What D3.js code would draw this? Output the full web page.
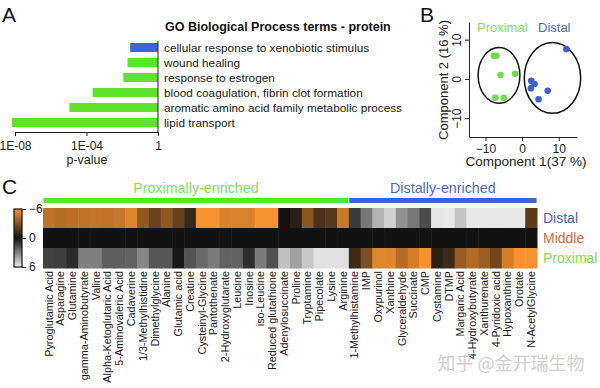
<!DOCTYPE html>
<meta charset="utf-8">
<script src="https://d3js.org/d3.v7.min.js"></script>
<style>
  body { margin: 0; background: #fff; }
  svg { font-family: "Liberation Sans", Arial, sans-serif; }
  .panel { font-size: 21px; fill: #111; }
  .axis text { font-size: 12px; fill: #222; }
  .axis path, .axis line { stroke: #222; }
</style>
<div id="wrapper"></div>
<script>
  // ---- Data ----
  // A: GO terms
  const goTerms = ["cellular response to xenobiotic stimulus", "wound healing", "response to estrogen",
    "blood coagulation, fibrin clot formation", "aromatic amino acid family metabolic process", "lipid transport"];
  const goPValues = [2.8e-2, 2.0e-2, 1.15e-2, 2.2e-4, 1.1e-5, 6.8e-9];
  const goGroup = ["Distal", "Proximal", "Proximal", "Proximal", "Proximal", "Proximal"];

  // B: PCA scores
  const proximalX = [-7.7, -7.0, -5.9, -1.9, -7.3, -5.0];
  const proximalY = [5.9, 5.9, 1.0, 1.3, -4.8, -4.8];
  const distalX = [12.1, 2.5, 3.4, 2.4, 7.0, 4.5];
  const distalY = [7.6, -0.5, -1.3, -2.4, -3.0, -5.2];

  // C: metabolite heatmap
  const proximalMetabolites = ["Pyroglutamic Acid", "Asparagine", "Glutamine", "gamma-Aminobutyrate", "Valine",
    "Alpha-Ketoglutaric Acid", "5-Aminovaleric Acid", "Cadaverine", "1/3-Methylhistidine", "Dimethylglycine",
    "Alanine", "Glutamic acid", "Creatine", "Cysteinyl-Glycine", "Pantothenate", "2-Hydroxyglutarate", "Leucine",
    "Inosine", "iso-Leucine", "Reduced glutathione", "Adenylosuccinate", "Proline", "Tryptamine", "Pipecolate",
    "Lysine", "Arginine"];
  const distalMetabolites = ["1-Methylhistamine", "IMP", "Oxypurinol", "Xanthine", "Glyceraldehyde", "Succinate",
    "CMP", "Cystamine", "DTMP", "Margaric Acid", "4-Hydroxybutyrate", "Xanthurenate", "4-Pyridoxic acid",
    "Hypoxanthine", "Orotate", "N-AcetylGlycine"];
  const rowNames = ["Distal", "Middle", "Proximal"];
  const distalRow = [-4.5, -4.3, -4.4, -4.5, -4.6, -4.5, -4.7, -5.3, -3.3, -2.3, -3.3, -2.2, -1.0,
    -6, -6, -5.2, -5.2, -5.2, -6, -6, 0, -0.6, -3.2, -1.5, -1.8, -4.8,
    1.1, 2.8, 4.4, 5.2, 3.5, 2.8, 1.6, 5.8, 5.9, 4.9, 5.9, 5.9, 5.9, 5.9, 5.9, -1.9];
  const middleRow = [0, 0, 0, 0, 0, 0, 0, 0, 0, 0, 0, 0, 0, 0, 0, 0, 0, 0, 0, 0, 0, 0, 0, 0, 0, 0,
    0, 0, 0, 0, 0, 0, 0, 0, 0, 0, 0, 0, 0, 0, 0, 0];
  const proximalRow = [1.3, 1.2, 0.7, 3.0, 3.0, 2.1, 2.1, 2.2, 3.2, 1.9, 1.9, 0.2, 1.8,
    2.4, 2.9, 2.2, 2.2, 0.8, 2.9, 1.7, 4.8, 3.9, 5.0, 5.7, 5.7, 5.7,
    -1.1, -2.8, -5.4, -5.4, -4.2, -5.0, -6, -0.7, -1.1, -3.5, -4.2, -3.6, -2.5, -5.0, -6, -6];

  const green = "#5fe22c", blue = "#3d63d8";

  const svg = d3.select("#wrapper").append("svg")
    .attr("width", 600).attr("height", 388);

  // ---- Panel A ----
  svg.append("text").attr("class", "panel").attr("x", 2).attr("y", 22).text("A");
  svg.append("text").attr("x", 165).attr("y", 31)
    .style("font-size", "12.5px").style("font-weight", "bold").attr("fill", "#111")
    .text("GO Biological Process terms - protein");

  const xA = d3.scaleLog().domain([1e-8, 1]).range([15, 158]);
  const yA = d3.scaleBand().domain(goTerms).range([40, 130]).paddingInner(0.4).paddingOuter(0.2);

  svg.append("g").selectAll("rect")
    .data(goTerms)
    .join("rect")
    .attr("x", (d, i) => xA(goPValues[i]))
    .attr("y", d => yA(d))
    .attr("width", (d, i) => xA(1) - xA(goPValues[i]))
    .attr("height", yA.bandwidth())
    .attr("fill", (d, i) => goGroup[i] === "Distal" ? blue : green);

  svg.append("g").selectAll("text")
    .data(goTerms)
    .join("text")
    .attr("x", 164)
    .attr("y", d => yA(d) + yA.bandwidth() / 2)
    .attr("dy", "0.35em")
    .style("font-size", "11.8px").attr("fill", "#1a1a1a")
    .text(d => d);

  svg.append("line").attr("x1", xA(1)).attr("x2", xA(1)).attr("y1", 41).attr("y2", 132).attr("stroke", "#222");
  svg.append("g").attr("class", "axis")
    .attr("transform", "translate(0,132)")
    .call(d3.axisBottom(xA).tickValues([1e-8, 1e-4, 1]).tickSize(4).tickPadding(5).tickSizeOuter(0)
      .tickFormat(d => d === 1 ? "1" : "1E-0" + Math.round(-Math.log10(d))));
  svg.append("text").attr("x", 87).attr("y", 164).attr("text-anchor", "middle")
    .style("font-size", "12.5px").attr("fill", "#222").text("p-value");

  // ---- Panel B ----
  svg.append("text").attr("class", "panel").attr("x", 420).attr("y", 22).text("B");
  const xB = d3.scaleLinear().domain([-14.5, 15]).range([469, 577]);
  const yB = d3.scaleLinear().domain([-14.8, 14.5]).range([137, 22]);

  svg.append("g").attr("class", "axis")
    .attr("transform", "translate(0,137)")
    .call(d3.axisBottom(xB).tickValues([-10, 0, 10]).tickSize(4).tickSizeOuter(0));
  const yAxisB = svg.append("g").attr("class", "axis")
    .attr("transform", "translate(469,0)")
    .call(d3.axisLeft(yB).tickValues([-10, 0, 10]).tickSize(4).tickSizeOuter(0));
  yAxisB.selectAll(".tick text")
    .attr("transform", "rotate(-90)")
    .attr("x", 0).attr("y", -8).attr("dy", "0").attr("text-anchor", "middle");

  svg.append("text").attr("transform", "translate(448,80) rotate(-90)")
    .attr("text-anchor", "middle").style("font-size", "13px").attr("fill", "#222")
    .text("Component 2 (16 %)");
  svg.append("text").attr("x", 526).attr("y", 166).attr("text-anchor", "middle")
    .style("font-size", "13.5px").attr("fill", "#222").text("Component 1(37 %)");

  // group ellipses
  const ellipses = [
    { cx: -6.3, cy: 0.9, rx: 5.7, ry: 7.1 },
    { cx: 8.3, cy: 0.25, rx: 7.7, ry: 9.0 }
  ];
  svg.append("g").selectAll("ellipse")
    .data(ellipses)
    .join("ellipse")
    .attr("cx", d => xB(d.cx)).attr("cy", d => yB(d.cy))
    .attr("rx", d => xB(d.cx + d.rx) - xB(d.cx))
    .attr("ry", d => yB(d.cy - d.ry) - yB(d.cy))
    .attr("fill", "none").attr("stroke", "#111").attr("stroke-width", 1.5);

  svg.append("g").selectAll("circle")
    .data(proximalX)
    .join("circle")
    .attr("cx", d => xB(d)).attr("cy", (d, i) => yB(proximalY[i])).attr("r", 3.3)
    .attr("fill", "#6bdf45");
  svg.append("g").selectAll("circle")
    .data(distalX)
    .join("circle")
    .attr("cx", d => xB(d)).attr("cy", (d, i) => yB(distalY[i])).attr("r", 3.3)
    .attr("fill", "#3a5fd6");

  svg.append("text").attr("x", 477).attr("y", 32).style("font-size", "13px").attr("fill", "#7de35a").text("Proximal");
  svg.append("text").attr("x", 538).attr("y", 32).style("font-size", "13px").attr("fill", "#4d6cc4").text("Distal");

  // ---- Panel C ----
  svg.append("text").attr("class", "panel").attr("x", 2).attr("y", 194).text("C");
  const metabolites = proximalMetabolites.concat(distalMetabolites);
  const xH = d3.scaleBand().domain(metabolites).range([43, 537]);
  const yH = d3.scaleBand().domain(rowNames).range([208, 268]);
  const color = d3.scaleLinear().domain([-6, 0, 6]).range(["#f7932f", "#121212", "#ececec"]);

  const rows = [distalRow, middleRow, proximalRow];
  const cells = [];
  rows.forEach((r, j) => r.forEach((v, i) => cells.push({ row: rowNames[j], col: metabolites[i], v })));

  svg.append("g").selectAll("rect")
    .data(cells)
    .join("rect")
    .attr("x", d => xH(d.col))
    .attr("y", d => yH(d.row))
    .attr("width", xH.bandwidth() + 0.5)
    .attr("height", yH.bandwidth() + 0.5)
    .attr("fill", d => color(d.v));

  // group bars
  const groups = [
    { name: "Proximally-enriched", first: proximalMetabolites[0], last: proximalMetabolites[proximalMetabolites.length - 1], c: green, t: "#7de35a" },
    { name: "Distally-enriched", first: distalMetabolites[0], last: distalMetabolites[distalMetabolites.length - 1], c: blue, t: "#4d6cc4" }
  ];
  groups.forEach(g => {
    const x0 = xH(g.first) + 0.5, x1 = xH(g.last) + xH.bandwidth() - 0.5;
    svg.append("rect").attr("x", x0).attr("y", 198).attr("width", x1 - x0).attr("height", 5).attr("fill", g.c);
    svg.append("text").attr("x", (x0 + x1) / 2).attr("y", 193).attr("text-anchor", "middle")
      .style("font-size", "14.3px").attr("fill", g.t).text(g.name);
  });

  // row labels
  const rowColors = ["#4a64b4", "#d9683a", "#7ddc55"];
  svg.append("g").selectAll("text")
    .data(rowNames)
    .join("text")
    .attr("x", 543)
    .attr("y", d => yH(d) + yH.bandwidth() / 2)
    .attr("dy", "0.35em")
    .style("font-size", "14px")
    .attr("fill", (d, i) => rowColors[i])
    .text(d => d);

  // column labels
  svg.append("g").selectAll("text")
    .data(metabolites)
    .join("text")
    .attr("transform", d => `translate(${xH(d) + xH.bandwidth() / 2},271) rotate(-90)`)
    .attr("dy", "0.35em")
    .attr("text-anchor", "end")
    .style("font-size", "10.8px")
    .attr("fill", "#1a1a1a")
    .text(d => d);

  // colour bar
  const defs = svg.append("defs");
  const grad = defs.append("linearGradient").attr("id", "cbar").attr("x1", 0).attr("x2", 0).attr("y1", 0).attr("y2", 1);
  [-6, -3, 0, 3, 6].forEach((v, i) => grad.append("stop").attr("offset", i / 4).attr("stop-color", color(v)));
  const yC = d3.scaleLinear().domain([-6, 6]).range([209, 267]);
  svg.append("rect").attr("x", 14).attr("y", 209).attr("width", 8).attr("height", 58)
    .attr("fill", "url(#cbar)").attr("stroke", "#111").attr("stroke-width", 1.2);
  svg.append("g").attr("class", "axis")
    .attr("transform", "translate(22,0)")
    .call(d3.axisRight(yC).tickValues([-6, 0, 6]).tickSize(4).tickSizeOuter(0))
    .call(g => g.select(".domain").remove())
    .selectAll("text").style("font-size", "12px");

  // watermark
  svg.append("text").attr("x", 511).attr("y", 370).attr("text-anchor", "middle")
    .style("font-family", "'Noto Sans CJK SC', sans-serif").style("font-size", "18px")
    .attr("fill", "#cfcfcf").text("知乎 @金开瑞生物");
</script>
